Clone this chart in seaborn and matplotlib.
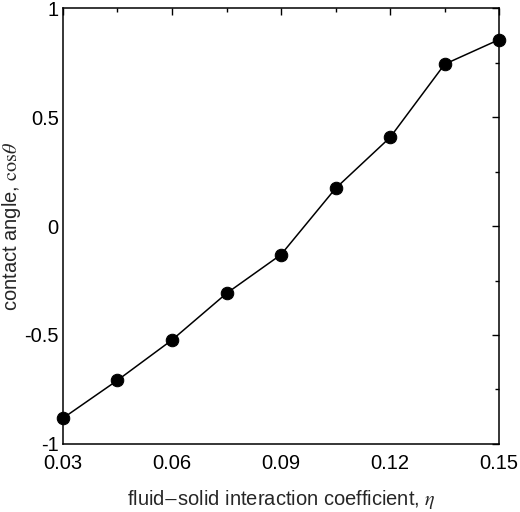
import matplotlib
matplotlib.use("Agg")
import matplotlib.pyplot as plt
import seaborn as sns
import pandas as pd
from matplotlib.ticker import MultipleLocator, FixedLocator

eta = [0.03, 0.045, 0.06, 0.075, 0.09, 0.105, 0.12, 0.135, 0.15]
cos_theta = [-0.882, -0.708, -0.523, -0.309, -0.131, 0.173, 0.407, 0.743, 0.856]
xticks = [0.03, 0.06, 0.09, 0.12, 0.15]
xticklabels = ["0.03", "0.06", "0.09", "0.12", "0.15"]
yticks = [-1, -0.5, 0, 0.5, 1]
yticklabels = ["-1", "-0.5", "0", "0.5", "1"]

sns.set_theme(style="white")
plt.rcParams['font.family'] = ['Liberation Sans', 'DejaVu Sans']
plt.rcParams['mathtext.fontset'] = 'stix'
plt.rcParams['axes.unicode_minus'] = False

df = pd.DataFrame({"eta": eta, "cos": cos_theta})

fig = plt.figure(figsize=(5.2, 5.12), dpi=100)
ax = fig.add_axes([0.121, 0.133, 0.839, 0.851])
sns.lineplot(data=df, x="eta", y="cos", ax=ax, color="black", linewidth=1.1,
             marker="o", markersize=9, markeredgecolor="black", markerfacecolor="black",
             clip_on=False, zorder=3)

ax.set_xlim(0.03, 0.15)
ax.set_ylim(-1, 1)
ax.xaxis.set_major_locator(FixedLocator(xticks))
ax.set_xticklabels(xticklabels)
ax.yaxis.set_major_locator(FixedLocator(yticks))
ax.set_yticklabels(yticklabels)
ax.xaxis.set_minor_locator(MultipleLocator(0.015))
ax.yaxis.set_minor_locator(MultipleLocator(0.25))
ax.tick_params(which="both", direction="in", top=True, right=True, colors="black",
               labelsize=14.5, width=1.0)
ax.tick_params(which="major", length=5)
ax.tick_params(which="minor", length=3)
ax.tick_params(axis="x", which="major", pad=7)
ax.tick_params(axis="y", which="major", pad=3)
for s in ax.spines.values():
    s.set_color("black")
    s.set_linewidth(1.1)

ax.set_xlabel(r"fluid$-$solid interaction coefficient, $\eta$", fontsize=14.5, va="baseline")
ax.xaxis.set_label_coords(0.5, -0.14)
ax.set_ylabel(r"contact angle, $\mathrm{cos}\theta$", fontsize=14.5, va="center")
ax.yaxis.set_label_coords(-0.117, 0.5)

fig.savefig("out.png", dpi=100, facecolor="white")
